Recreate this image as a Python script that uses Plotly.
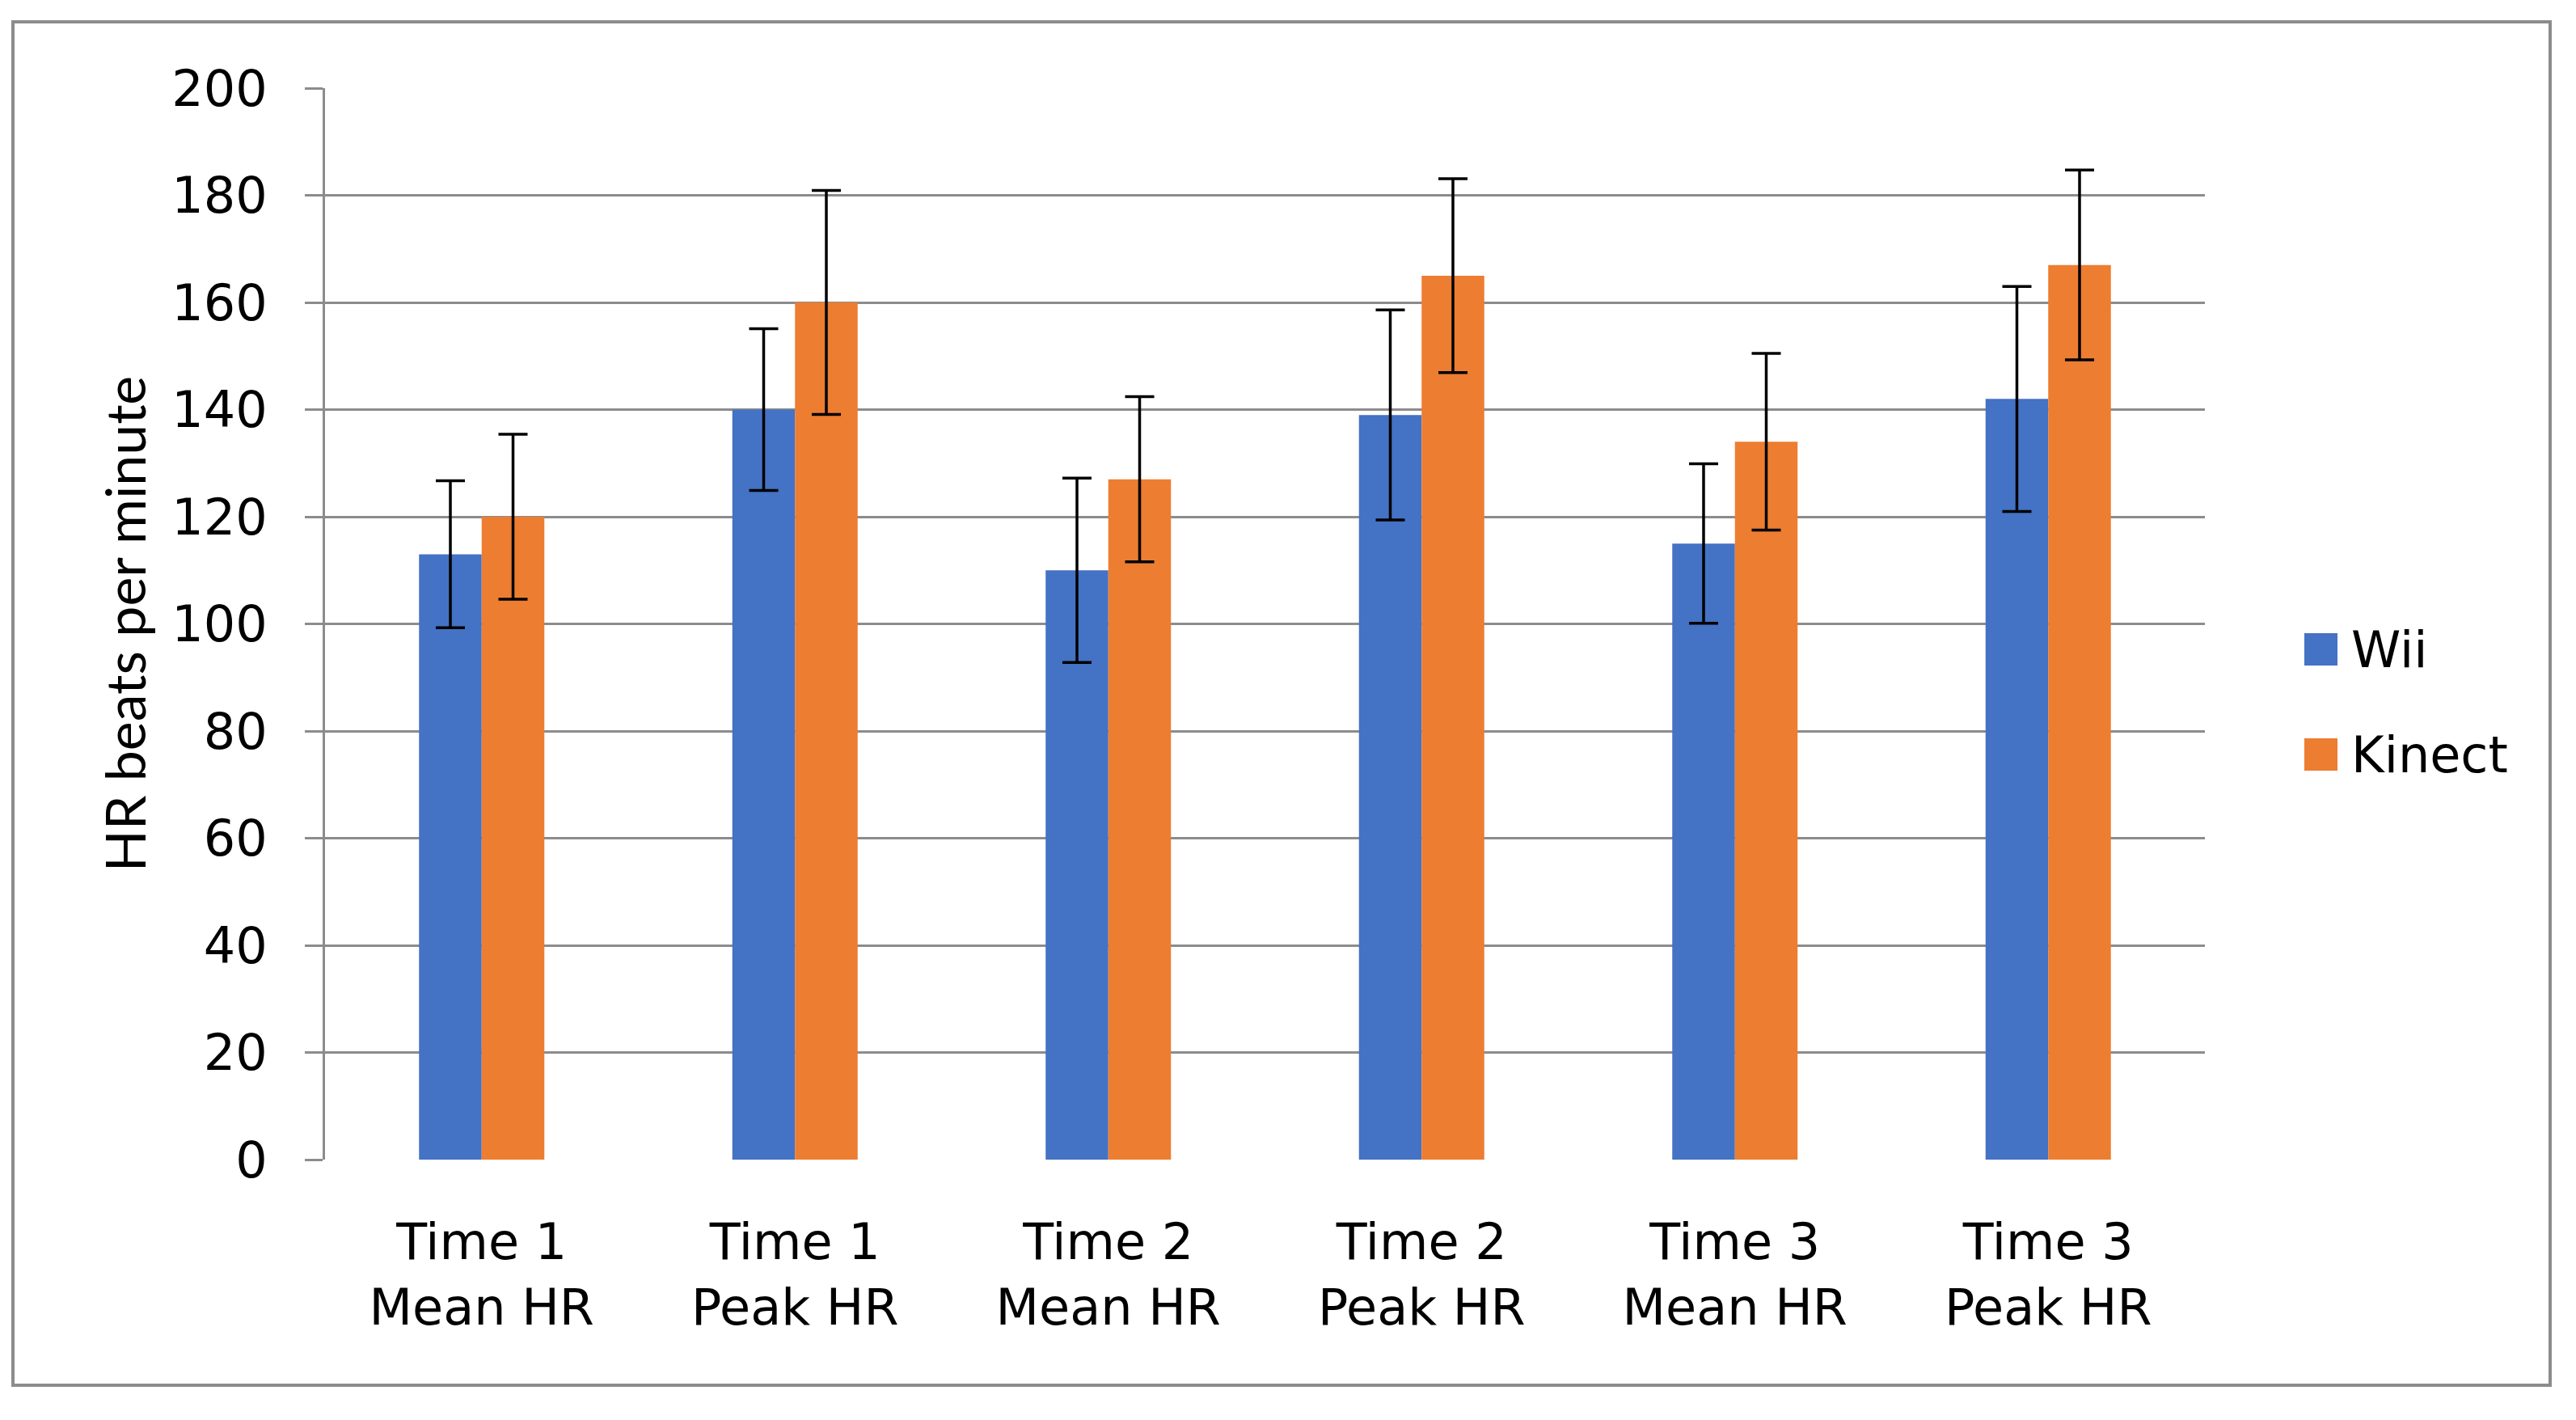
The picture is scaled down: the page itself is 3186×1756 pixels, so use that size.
import plotly.graph_objects as go

# data
categories = ["Time 1<br>Mean HR", "Time 1<br>Peak HR",
              "Time 2<br>Mean HR", "Time 2<br>Peak HR",
              "Time 3<br>Mean HR", "Time 3<br>Peak HR"]
wii = [113, 140, 110, 139, 115, 142]
wii_err = [13.7, 15.1, 17.2, 19.6, 14.9, 21.0]
kinect = [120, 160, 127, 165, 134, 167]
kinect_err = [15.4, 20.9, 15.4, 18.1, 16.5, 17.7]
y_ticks = list(range(0, 201, 20))

W, H = 3186, 1756
OFF = 8  # page margin of the html body
L, R, T, B = 402 - OFF, 459, 109 - OFF, 322
grid_col = "#8c8c8c"
blue = "#4472C4"
orange = "#ED7D31"
tick_font = dict(family="DejaVu Sans", size=62, color="black")


def px(xp):
    # page pixel -> paper x
    return (xp - OFF - L) / (W - OFF - L - R)


def py(yp):
    # page pixel -> paper y
    return (H - B - yp) / (H - OFF - T - B)


fig = go.Figure()
fig.add_trace(go.Bar(x=categories, y=wii, name="Wii", marker=dict(color=blue, line=dict(width=0)),
                     error_y=dict(type="data", array=wii_err, color="black", thickness=3.5, width=18)))
fig.add_trace(go.Bar(x=categories, y=kinect, name="Kinect", marker=dict(color=orange, line=dict(width=0)),
                     error_y=dict(type="data", array=kinect_err, color="black", thickness=3.5, width=18)))

fig.update_layout(
    width=W - OFF, height=H - OFF,
    margin=dict(l=L, r=R, t=T, b=B),
    paper_bgcolor="white", plot_bgcolor="white",
    barmode="group", bargap=0.6, bargroupgap=0,
    showlegend=False,
    xaxis=dict(showgrid=False, showline=False, ticks="", tickfont=tick_font,
               ticklabelstandoff=60),
    yaxis=dict(range=[0, 200], tickvals=y_ticks, showgrid=True, gridcolor=grid_col, gridwidth=3,
               showline=True, linecolor=grid_col, linewidth=3, zeroline=False,
               ticks="outside", ticklen=22, tickwidth=3, tickcolor=grid_col,
               tickfont=tick_font, ticklabelstandoff=34,
               title=dict(text="HR beats per minute", font=dict(family="Lato", size=68, color="black"),
                          standoff=10)),
)

# outer frame
fig.add_shape(type="rect", xref="paper", yref="paper",
              x0=px(16), x1=px(3154), y0=py(1713), y1=py(27),
              line=dict(color=grid_col, width=4))

# legend drawn by hand so the swatches can be as big as in the reference
for name, col, yc in [("Wii", blue, 803), ("Kinect", orange, 933)]:
    fig.add_shape(type="rect", xref="paper", yref="paper",
                  x0=px(2850), x1=px(2891), y0=py(yc + 20), y1=py(yc - 20),
                  line=dict(width=0), fillcolor=col)
    fig.add_annotation(xref="paper", yref="paper", x=px(2906), y=py(yc),
                       text=name, showarrow=False, xanchor="left", yanchor="middle",
                       font=tick_font)

fig.write_html("out.html")
